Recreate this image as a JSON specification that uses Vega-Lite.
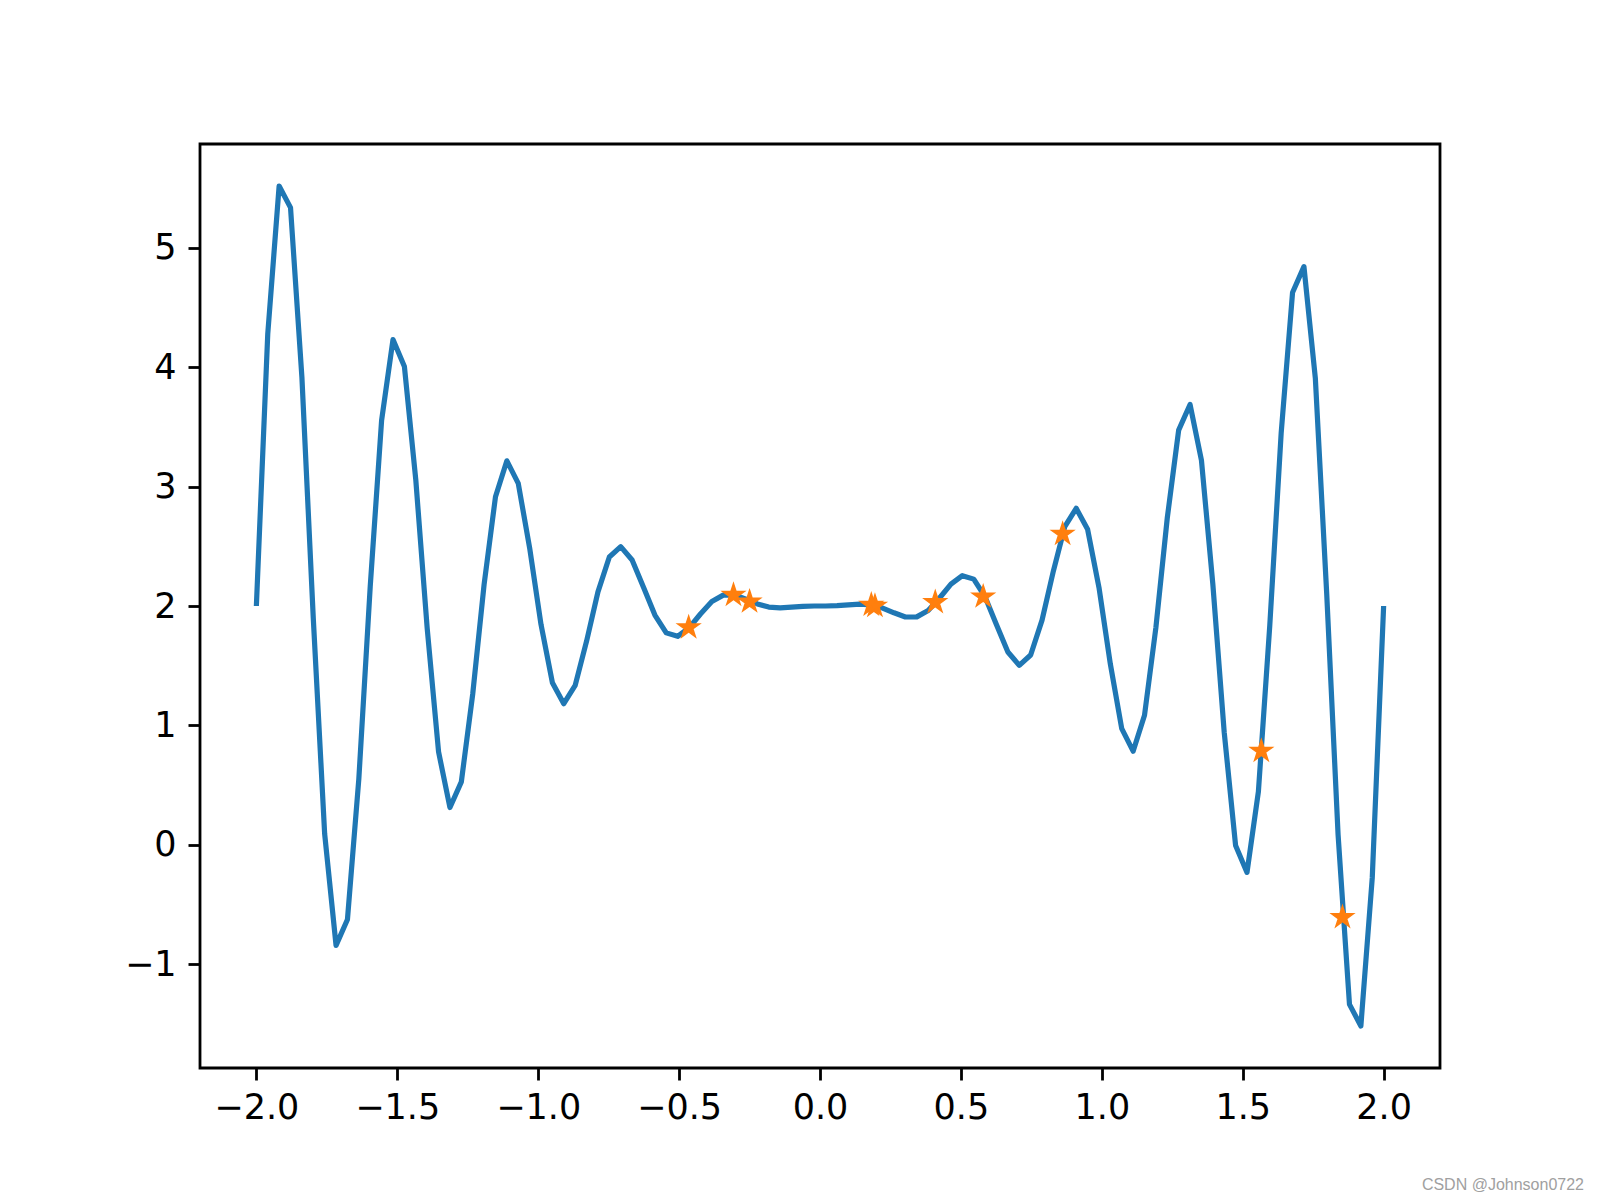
{
  "$schema": "https://vega.github.io/schema/vega-lite/v6.json",
  "width": 1240,
  "height": 924,
  "autosize": {"type": "none"},
  "padding": {"left": 200, "top": 144, "right": 160, "bottom": 132},
  "background": "white",
  "title": {
    "text": "CSDN @Johnson0722",
    "orient": "bottom",
    "anchor": "end",
    "frame": "group",
    "dx": 144,
    "offset": 52,
    "font": "Liberation Sans",
    "fontSize": 16,
    "fontWeight": "normal",
    "color": "#a0a0a0"
  },
  "config": {
    "view": {"stroke": "black", "strokeWidth": 2.8},
    "axis": {
      "grid": false,
      "domain": false,
      "ticks": true,
      "tickColor": "black",
      "tickWidth": 2.8,
      "tickSize": 12,
      "labelPadding": 10,
      "labelFont": "DejaVu Sans",
      "labelFontSize": 35,
      "labelColor": "black",
      "title": null
    }
  },
  "datasets": {
    "curve": [
      {"x": -2.0, "y": 2.0},
      {"x": -1.9596, "y": 4.277},
      {"x": -1.9192, "y": 5.517},
      {"x": -1.8788, "y": 5.336},
      {"x": -1.8384, "y": 3.916},
      {"x": -1.798, "y": 1.897},
      {"x": -1.7576, "y": 0.09},
      {"x": -1.7172, "y": -0.842},
      {"x": -1.6768, "y": -0.626},
      {"x": -1.6364, "y": 0.552},
      {"x": -1.596, "y": 2.162},
      {"x": -1.5556, "y": 3.555},
      {"x": -1.5152, "y": 4.231},
      {"x": -1.4747, "y": 4.006},
      {"x": -1.4343, "y": 3.057},
      {"x": -1.3939, "y": 1.815},
      {"x": -1.3535, "y": 0.779},
      {"x": -1.3131, "y": 0.312},
      {"x": -1.2727, "y": 0.527},
      {"x": -1.2323, "y": 1.262},
      {"x": -1.1919, "y": 2.18},
      {"x": -1.1515, "y": 2.915},
      {"x": -1.1111, "y": 3.216},
      {"x": -1.0707, "y": 3.027},
      {"x": -1.0303, "y": 2.486},
      {"x": -0.9899, "y": 1.845},
      {"x": -0.9495, "y": 1.358},
      {"x": -0.9091, "y": 1.182},
      {"x": -0.8687, "y": 1.335},
      {"x": -0.8283, "y": 1.705},
      {"x": -0.7879, "y": 2.118},
      {"x": -0.7475, "y": 2.41},
      {"x": -0.7071, "y": 2.497},
      {"x": -0.6667, "y": 2.385},
      {"x": -0.6263, "y": 2.157},
      {"x": -0.5859, "y": 1.924},
      {"x": -0.5455, "y": 1.775},
      {"x": -0.5051, "y": 1.746},
      {"x": -0.4646, "y": 1.817},
      {"x": -0.4242, "y": 1.933},
      {"x": -0.3838, "y": 2.037},
      {"x": -0.3434, "y": 2.091},
      {"x": -0.303, "y": 2.092},
      {"x": -0.2626, "y": 2.057},
      {"x": -0.2222, "y": 2.017},
      {"x": -0.1818, "y": 1.991},
      {"x": -0.1414, "y": 1.984},
      {"x": -0.101, "y": 1.99},
      {"x": -0.0606, "y": 1.997},
      {"x": -0.0202, "y": 2.0},
      {"x": 0.0202, "y": 2.0},
      {"x": 0.0606, "y": 2.003},
      {"x": 0.101, "y": 2.01},
      {"x": 0.1414, "y": 2.016},
      {"x": 0.1818, "y": 2.009},
      {"x": 0.2222, "y": 1.983},
      {"x": 0.2626, "y": 1.943},
      {"x": 0.303, "y": 1.908},
      {"x": 0.3434, "y": 1.909},
      {"x": 0.3838, "y": 1.963},
      {"x": 0.4242, "y": 2.067},
      {"x": 0.4646, "y": 2.183},
      {"x": 0.5051, "y": 2.254},
      {"x": 0.5455, "y": 2.225},
      {"x": 0.5859, "y": 2.076},
      {"x": 0.6263, "y": 1.843},
      {"x": 0.6667, "y": 1.615},
      {"x": 0.7071, "y": 1.503},
      {"x": 0.7475, "y": 1.59},
      {"x": 0.7879, "y": 1.882},
      {"x": 0.8283, "y": 2.295},
      {"x": 0.8687, "y": 2.665},
      {"x": 0.9091, "y": 2.818},
      {"x": 0.9495, "y": 2.643},
      {"x": 0.9899, "y": 2.155},
      {"x": 1.0303, "y": 1.514},
      {"x": 1.0707, "y": 0.973},
      {"x": 1.1111, "y": 0.784},
      {"x": 1.1515, "y": 1.085},
      {"x": 1.1919, "y": 1.82},
      {"x": 1.2323, "y": 2.738},
      {"x": 1.2727, "y": 3.473},
      {"x": 1.3131, "y": 3.688},
      {"x": 1.3535, "y": 3.221},
      {"x": 1.3939, "y": 2.185},
      {"x": 1.4343, "y": 0.943},
      {"x": 1.4747, "y": -0.006},
      {"x": 1.5152, "y": -0.231},
      {"x": 1.5556, "y": 0.445},
      {"x": 1.596, "y": 1.838},
      {"x": 1.6364, "y": 3.448},
      {"x": 1.6768, "y": 4.626},
      {"x": 1.7172, "y": 4.842},
      {"x": 1.7576, "y": 3.91},
      {"x": 1.798, "y": 2.103},
      {"x": 1.8384, "y": 0.084},
      {"x": 1.8788, "y": -1.336},
      {"x": 1.9192, "y": -1.517},
      {"x": 1.9596, "y": -0.277},
      {"x": 2.0, "y": 2.0}
    ],
    "samples": [
      {"x": -0.466, "y": 1.82},
      {"x": -0.307, "y": 2.092},
      {"x": -0.25, "y": 2.036},
      {"x": 0.182, "y": 2.009},
      {"x": 0.195, "y": 2.0},
      {"x": 0.409, "y": 2.031},
      {"x": 0.579, "y": 2.078},
      {"x": 0.861, "y": 2.603},
      {"x": 1.566, "y": 0.786},
      {"x": 1.854, "y": -0.607}
    ]
  },
  "layer": [
    {
      "data": {"name": "curve"},
      "mark": {"type": "line", "color": "#1f77b4", "strokeWidth": 5.2, "strokeJoin": "round", "clip": false},
      "encoding": {
        "x": {"field": "x", "type": "quantitative", "scale": {"domain": [-2.2, 2.2], "nice": false, "zero": false},
              "axis": {"values": [-2, -1.5, -1, -0.5, 0, 0.5, 1, 1.5, 2], "format": ".1f"}},
        "y": {"field": "y", "type": "quantitative", "scale": {"domain": [-1.869, 5.869], "nice": false, "zero": false},
              "axis": {"values": [-1, 0, 1, 2, 3, 4, 5], "format": "d", "labelPadding": 12}}
      }
    },
    {
      "data": {"name": "samples"},
      "mark": {
        "type": "point",
        "shape": "M0,-1L0.2245,-0.309L0.951,-0.309L0.363,0.118L0.588,0.809L0,0.382L-0.588,0.809L-0.363,0.118L-0.951,-0.309L-0.2245,-0.309Z",
        "filled": true,
        "color": "#ff7f0e",
        "stroke": "#ff7f0e",
        "strokeWidth": 2.2,
        "strokeJoin": "miter",
        "opacity": 1,
        "size": 420
      },
      "encoding": {
        "x": {"field": "x", "type": "quantitative"},
        "y": {"field": "y", "type": "quantitative"}
      }
    }
  ]
}
